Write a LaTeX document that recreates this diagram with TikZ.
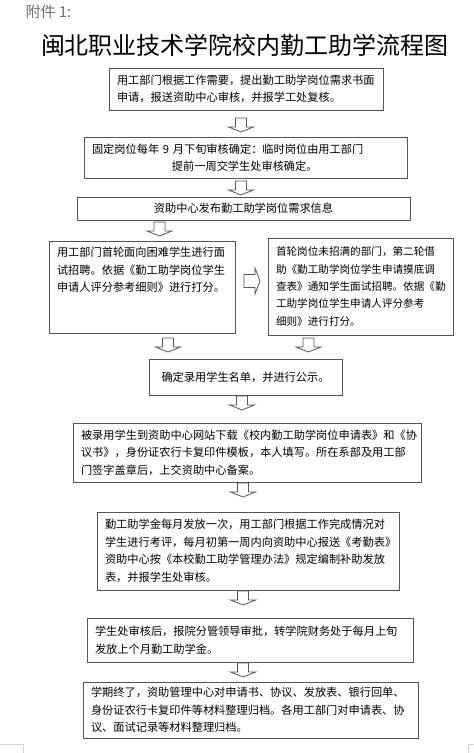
\documentclass[tikz,border=0pt]{standalone}
\usepackage{fontspec}
\setmainfont{Noto Sans CJK SC}
\usetikzlibrary{calc}
\definecolor{boxgray}{RGB}{85,85,85}
\definecolor{notegray}{RGB}{110,110,110}
\tikzset{
  flowbox/.style={draw=boxgray, line width=0.9pt, inner xsep=8pt, inner ysep=0pt,
    align=left, font=\fontsize{11.2pt}{17.5pt}\selectfont},
  midbox/.style={flowbox, align=center},
  arrowline/.style={draw=boxgray, line width=0.8pt, line join=miter},
  downarr/.pic={\draw[arrowline] (-5.5,0) -- (-5.5,9) -- (-12.5,9) -- (0,14) -- (12.5,9) -- (5.5,9) -- (5.5,0) -- cycle;},
  rightarr/.pic={\draw[arrowline] (0,-6.5) -- (11,-6.5) -- (11,-13) -- (16,0) -- (11,13) -- (11,6.5) -- (0,6.5) -- cycle;},
}
\begin{document}
\begin{tikzpicture}[x=1pt,y=-1pt]
	\useasboundingbox (0,0) rectangle (474,753);
	\node[anchor=west, text=notegray, font=\fontsize{15pt}{17pt}\selectfont] (note) at (22,12) {附件 1:};
	\node[font=\fontsize{24pt}{28pt}\selectfont] (title) at (245,45) {闽北职业技术学院校内勤工助学流程图};
	\node[flowbox, minimum width=274pt, minimum height=42pt, text width=258pt] (b1) at (246,89)
		{用工部门根据工作需要，提出勤工助学岗位需求书面\\申请，报送资助中心审核，并报学工处复核。};
	\node[flowbox, minimum width=323pt, minimum height=41pt, text width=307pt] (b2) at (245.5,157.5)
		{固定岗位每年 9 月下旬审核确定：临时岗位由用工部门\\\hspace*{80pt}提前一周交学生处审核确定。};
	\node[midbox, minimum width=333pt, minimum height=23pt, text width=317pt] (b3) at (243.5,208.5)
		{资助中心发布勤工助学岗位需求信息};
	\node[flowbox, minimum width=186pt, minimum height=92pt, text width=170pt] (b4) at (142,287)
		{用工部门首轮面向困难学生进行面\\试招聘。依据《勤工助学岗位学生\\申请人评分参考细则》进行打分。\\~\\~};
	\node[flowbox, font=\fontsize{10.6pt}{17.3pt}\selectfont, minimum width=185pt, minimum height=97pt, text width=169pt] (b5) at (360.5,286.5)
		{首轮岗位未招满的部门，第二轮借\\助《勤工助学岗位学生申请摸底调\\查表》通知学生面试招聘。依据《勤\\工助学岗位学生申请人评分参考\\细则》进行打分。};
	\node[midbox, minimum width=193pt, minimum height=36pt, text width=177pt] (b6) at (245.5,377)
		{确定录用学生名单，并进行公示。};
	\node[flowbox, minimum width=348pt, minimum height=59pt, text width=332pt] (b7) at (247,452.5)
		{被录用学生到资助中心网站下载《校内勤工助学岗位申请表》和《协\\议书》，身份证农行卡复印件模板，本人填写。所在系部及用工部\\门签字盖章后，上交资助中心备案。};
	\node[flowbox, minimum width=302pt, minimum height=78pt, text width=286pt] (b8) at (248,551)
		{勤工助学金每月发放一次，用工部门根据工作完成情况对\\学生进行考评，每月初第一周内向资助中心报送《考勤表》\\资助中心按《本校勤工助学管理办法》规定编制补助发放\\表，并报学生处审核。};
	\node[flowbox, minimum width=326pt, minimum height=44pt, text width=310pt] (b9) at (250,640)
		{学生处审核后，报院分管领导审批，转学院财务处于每月上旬\\发放上个月勤工助学金。};
	\node[flowbox, minimum width=335pt, minimum height=56pt, text width=319pt] (b10) at (250.5,710)
		{学期终了，资助管理中心对申请书、协议、发放表、银行回单、\\身份证农行卡复印件等材料整理归档。各用工部门对申请表、协\\议、面试记录等材料整理归档。};
	\pic at (241,118) {downarr};
	\pic at (241,181) {downarr};
	\pic at (159.5,222) {downarr};
	\pic at (244,281) {rightarr};
	\pic at (168,338) {downarr};
	\pic at (308.5,338) {downarr};
	\pic at (242,396) {downarr};
	\pic at (243,483) {downarr};
	\pic at (243,591) {downarr};
	\pic at (243,663) {downarr};
	\draw[gray!35] (0,744) -- (23,744) -- (23,753);
	\draw[gray!35] (468,753) -- (468,744) -- (474,744);
\end{tikzpicture}
\end{document}
